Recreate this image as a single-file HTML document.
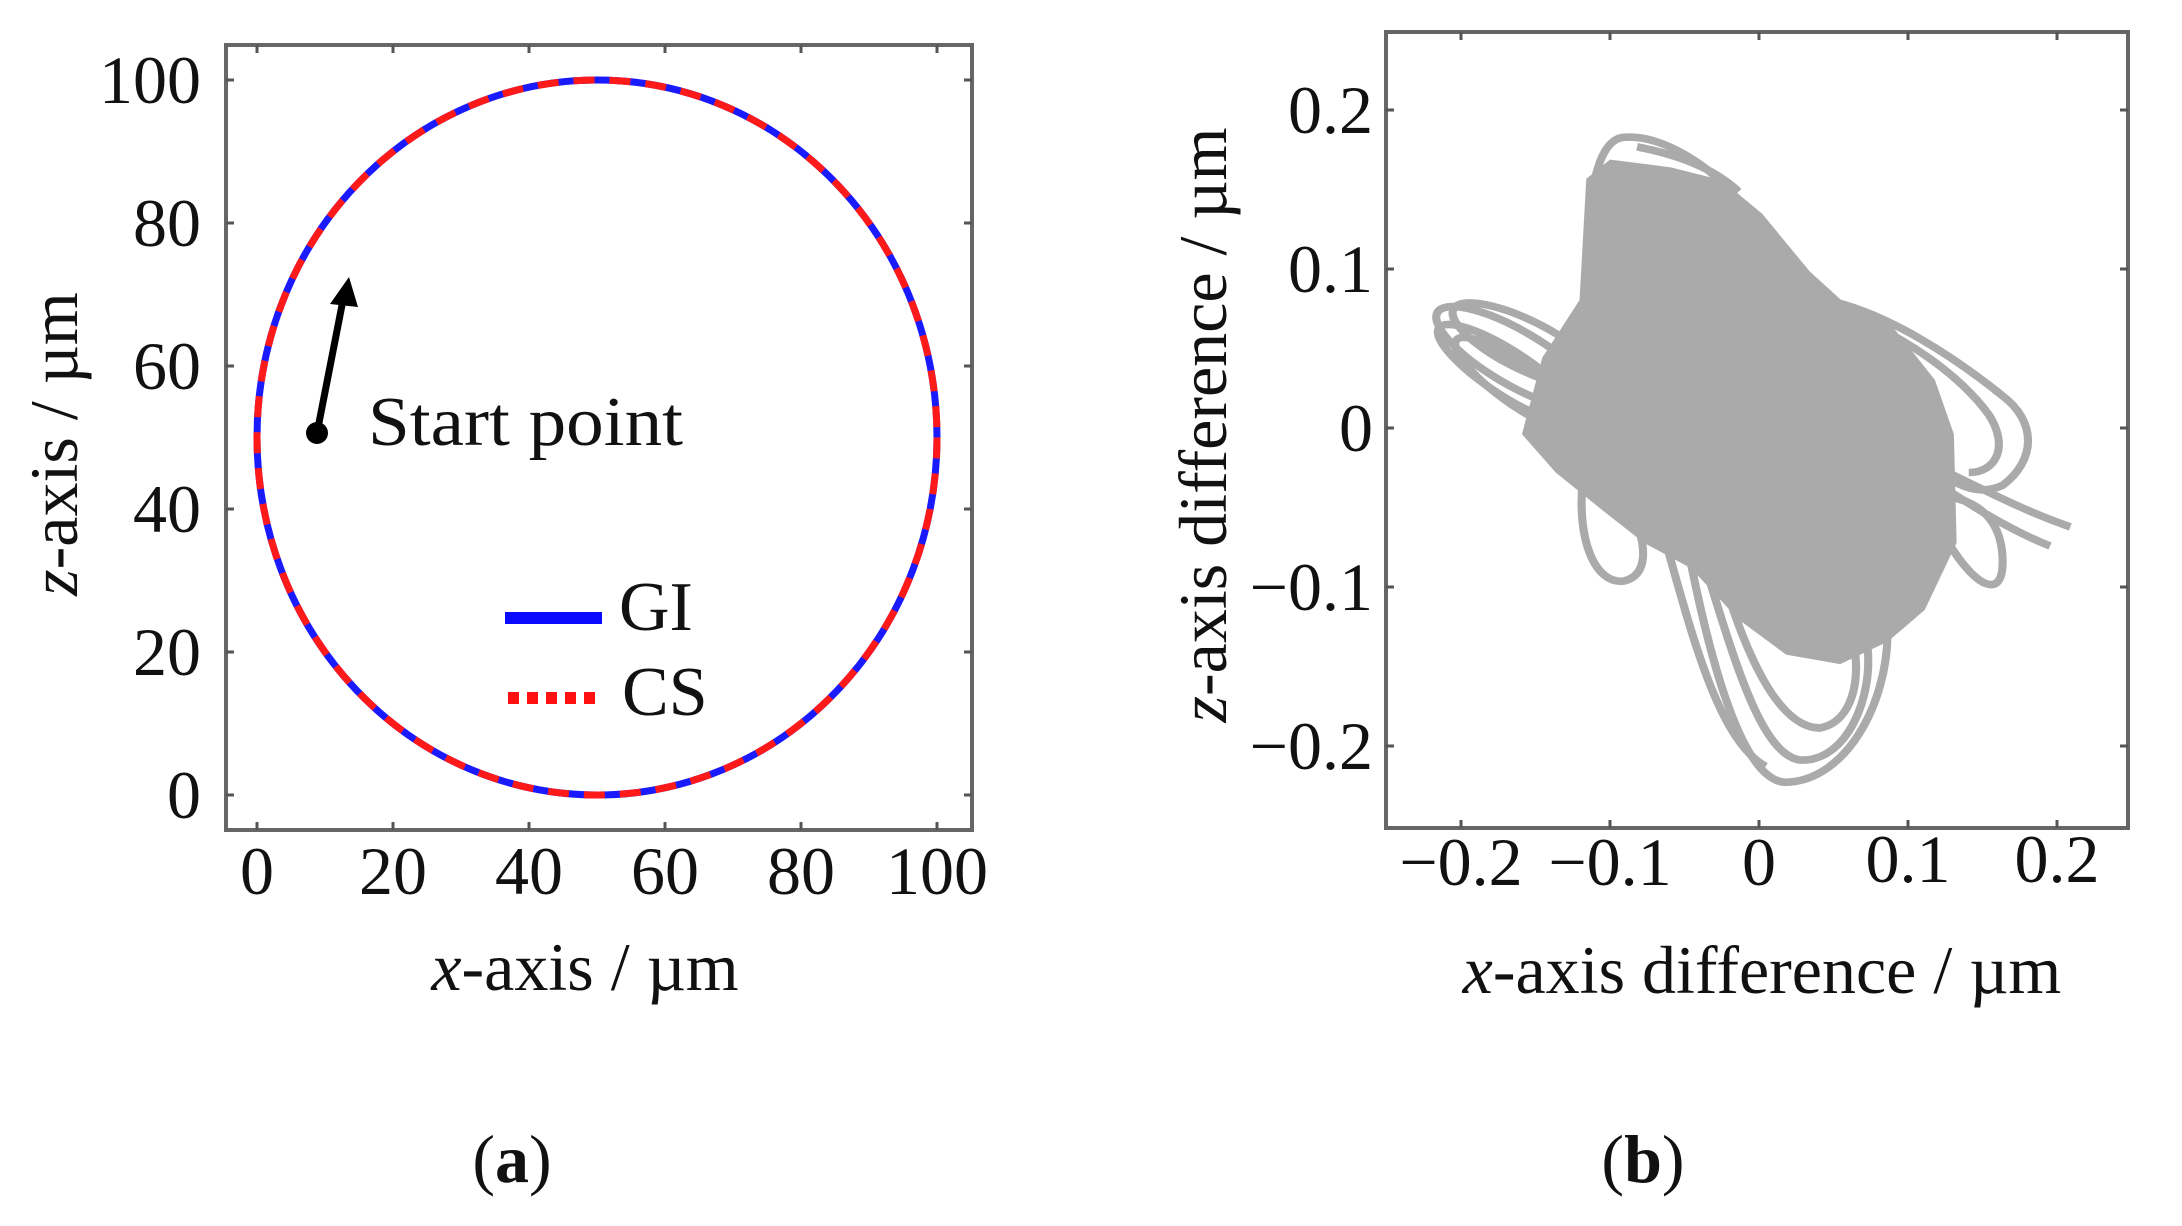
<!DOCTYPE html>
<html><head><meta charset="utf-8"><style>
html,body{margin:0;padding:0;background:#fff;}
svg{display:block;}
text{font-family:"Liberation Serif",serif;fill:#111;}
</style></head><body>
<svg width="2182" height="1226" viewBox="0 0 2182 1226" xmlns="http://www.w3.org/2000/svg">
<!-- LEFT PLOT -->
<g>
<rect x="226" y="45" width="746" height="785" fill="none" stroke="#666" stroke-width="4"/>
<g stroke="#555" stroke-width="3">
<line x1="257" y1="830" x2="257" y2="822"/><line x1="393" y1="830" x2="393" y2="822"/><line x1="529" y1="830" x2="529" y2="822"/><line x1="665" y1="830" x2="665" y2="822"/><line x1="801" y1="830" x2="801" y2="822"/><line x1="937" y1="830" x2="937" y2="822"/>
<line x1="257" y1="45" x2="257" y2="53"/><line x1="393" y1="45" x2="393" y2="53"/><line x1="529" y1="45" x2="529" y2="53"/><line x1="665" y1="45" x2="665" y2="53"/><line x1="801" y1="45" x2="801" y2="53"/><line x1="937" y1="45" x2="937" y2="53"/>
<line x1="226" y1="795" x2="234" y2="795"/><line x1="226" y1="652" x2="234" y2="652"/><line x1="226" y1="509" x2="234" y2="509"/><line x1="226" y1="366" x2="234" y2="366"/><line x1="226" y1="223" x2="234" y2="223"/><line x1="226" y1="80" x2="234" y2="80"/>
<line x1="972" y1="795" x2="964" y2="795"/><line x1="972" y1="652" x2="964" y2="652"/><line x1="972" y1="509" x2="964" y2="509"/><line x1="972" y1="366" x2="964" y2="366"/><line x1="972" y1="223" x2="964" y2="223"/><line x1="972" y1="80" x2="964" y2="80"/>
</g>
<ellipse cx="597" cy="437.5" rx="340" ry="357.5" fill="none" stroke="#1a1aff" stroke-width="7"/>
<ellipse cx="597" cy="437.5" rx="340" ry="357.5" fill="none" stroke="#ff1a1a" stroke-width="7" stroke-dasharray="21 15"/>
<g font-size="68" text-anchor="end">
<text x="201" y="103">100</text><text x="201" y="246">80</text><text x="201" y="389">60</text><text x="201" y="532">40</text><text x="201" y="675">20</text><text x="201" y="818">0</text>
</g>
<g font-size="68" text-anchor="middle">
<text x="257" y="894">0</text><text x="393" y="894">20</text><text x="529" y="894">40</text><text x="665" y="894">60</text><text x="801" y="894">80</text><text x="937" y="894">100</text>
</g>
<text x="585" y="990" font-size="68" text-anchor="middle"><tspan font-style="italic">x</tspan>-axis / µm</text>
<text transform="translate(77,444) rotate(-90)" font-size="68" text-anchor="middle"><tspan font-style="italic">z</tspan>-axis / µm</text>
<circle cx="317" cy="433" r="11" fill="#000"/>
<line x1="317" y1="433" x2="343" y2="300" stroke="#000" stroke-width="7"/>
<polygon points="349,277 330,304 358,307" fill="#000"/>
<text x="368" y="445" font-size="70" textLength="315" lengthAdjust="spacingAndGlyphs">Start point</text>
<line x1="505" y1="618" x2="602" y2="618" stroke="#0a0aff" stroke-width="12"/>
<line x1="508" y1="698" x2="602" y2="698" stroke="#ff1010" stroke-width="12" stroke-dasharray="11 8"/>
<text x="619" y="630" font-size="70">GI</text>
<text x="622" y="715" font-size="70">CS</text>
</g>
<!-- RIGHT PLOT -->
<g>
<rect x="1386" y="32" width="742" height="796" fill="none" stroke="#666" stroke-width="4"/>
<g stroke="#555" stroke-width="3">
<line x1="1461" y1="828" x2="1461" y2="820"/><line x1="1610" y1="828" x2="1610" y2="820"/><line x1="1759" y1="828" x2="1759" y2="820"/><line x1="1908" y1="828" x2="1908" y2="820"/><line x1="2057" y1="828" x2="2057" y2="820"/>
<line x1="1461" y1="32" x2="1461" y2="40"/><line x1="1610" y1="32" x2="1610" y2="40"/><line x1="1759" y1="32" x2="1759" y2="40"/><line x1="1908" y1="32" x2="1908" y2="40"/><line x1="2057" y1="32" x2="2057" y2="40"/>
<line x1="1386" y1="110" x2="1394" y2="110"/><line x1="1386" y1="269" x2="1394" y2="269"/><line x1="1386" y1="428" x2="1394" y2="428"/><line x1="1386" y1="587" x2="1394" y2="587"/><line x1="1386" y1="746" x2="1394" y2="746"/>
<line x1="2128" y1="110" x2="2120" y2="110"/><line x1="2128" y1="269" x2="2120" y2="269"/><line x1="2128" y1="428" x2="2120" y2="428"/><line x1="2128" y1="587" x2="2120" y2="587"/><line x1="2128" y1="746" x2="2120" y2="746"/>
</g>
<g transform="matrix(0.677 0 0 0.6386 1109 0)" fill="none" stroke="#aaa" stroke-width="12">
<path fill="#aaa" stroke="none" d="M695,470 L705,280 L740,250 L830,262 L905,282 L965,335 L1035,425 L1090,478 L1160,515 L1220,595 L1248,680 L1252,850 L1205,955 L1150,1005 L1080,1040 L1000,1025 L930,970 L860,890 L790,850 L730,800 L660,740 L610,680 L640,560 Z"/>
<path d="M705,470 C705,330 715,220 760,215 C810,210 870,250 905,285"/>
<path d="M780,230 C830,240 890,260 930,300"/>
<ellipse cx="600" cy="560" rx="135" ry="42" transform="rotate(32 600 560)"/>
<ellipse cx="590" cy="585" rx="125" ry="34" transform="rotate(35 590 585)"/>
<ellipse cx="615" cy="540" rx="120" ry="38" transform="rotate(28 615 540)"/>
<ellipse cx="600" cy="600" rx="110" ry="30" transform="rotate(38 600 600)"/>
<path d="M1060,470 C1150,490 1250,560 1320,620 C1370,660 1370,720 1320,760 C1260,790 1200,720 1150,650"/>
<path d="M1080,490 C1170,520 1260,590 1300,650 C1330,700 1310,740 1270,740"/>
<path d="M1200,720 C1280,760 1350,800 1420,825"/>
<path d="M1200,740 C1270,790 1330,830 1390,855"/>
<path d="M1240,850 C1280,920 1320,940 1320,880 C1320,820 1290,790 1250,780"/>
<path d="M850,830 C880,1000 930,1225 1000,1225 C1090,1222 1150,1100 1150,990"/>
<path d="M870,850 C920,1020 960,1180 1020,1190 C1090,1195 1130,1090 1120,1010"/>
<path d="M900,880 C940,1030 990,1140 1050,1140 C1100,1130 1110,1060 1100,1010"/>
<path d="M820,840 C860,990 900,1160 970,1200"/>
<path d="M700,750 C690,850 720,915 760,910 C800,900 790,850 780,820"/>
</g>
<g font-size="68" text-anchor="end">
<text x="1373" y="133">0.2</text><text x="1373" y="292">0.1</text><text x="1373" y="451">0</text><text x="1373" y="610">−0.1</text><text x="1373" y="769">−0.2</text>
</g>
<g font-size="68" text-anchor="middle">
<text x="1461" y="885">−0.2</text><text x="1610" y="885">−0.1</text><text x="1759" y="885">0</text><text x="1908" y="882">0.1</text><text x="2057" y="882">0.2</text>
</g>
<text x="1762" y="993" font-size="68" text-anchor="middle"><tspan font-style="italic">x</tspan>-axis difference / µm</text>
<text transform="translate(1226,425) rotate(-90)" font-size="68" text-anchor="middle"><tspan font-style="italic">z</tspan>-axis difference / µm</text>
</g>
<text x="512" y="1182" font-size="68" text-anchor="middle">(<tspan font-weight="bold">a</tspan>)</text>
<text x="1643" y="1182" font-size="68" text-anchor="middle">(<tspan font-weight="bold">b</tspan>)</text>
</svg>
</body></html>
